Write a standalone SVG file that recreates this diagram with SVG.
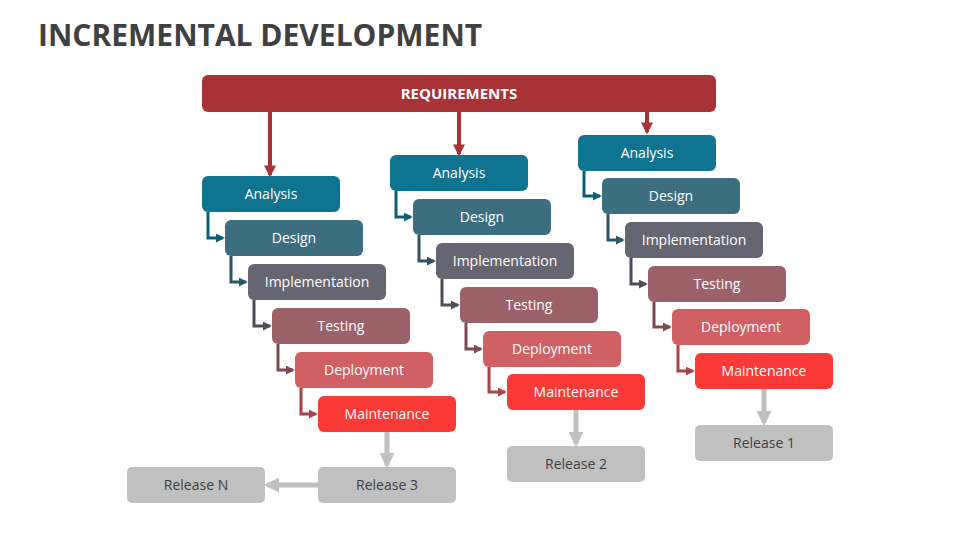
<svg xmlns="http://www.w3.org/2000/svg" width="960" height="540" viewBox="0 0 960 540">
<style>
text{font-family:"Open Sans","Liberation Sans",sans-serif;text-anchor:middle}
.t{font-size:14px;fill:#fff}
.r{font-size:14px;fill:#404040}
.c{fill:none;stroke-width:3}
</style>
<defs>
<marker id="ah" viewBox="0 0 10 10" refX="8" refY="5" markerWidth="3" markerHeight="3" orient="auto"><path d="M0,0L10,5L0,10z" fill="context-stroke"/></marker>
<marker id="ag" viewBox="0 0 10 10" refX="8" refY="5" markerWidth="3" markerHeight="3" orient="auto"><path d="M0,0L10,5L0,10z" fill="#c0c0c0"/></marker>
<marker id="ar" viewBox="0 0 10 10" refX="8" refY="5" markerWidth="3" markerHeight="3" orient="auto"><path d="M0,0L10,5L0,10z" fill="#a83236"/></marker>
</defs>
<text x="38" y="46" style="text-anchor:start;font-family:'Open Sans','Liberation Sans',sans-serif;font-weight:bold;font-size:30px;fill:#404040">INCREMENTAL DEVELOPMENT</text>
<g id="connectors">
<g stroke="#a83236" stroke-width="4" marker-end="url(#ar)">
<line x1="270" y1="112" x2="270" y2="175"/><line x1="459" y1="112" x2="459" y2="154"/><line x1="647" y1="112" x2="647" y2="132"/>
</g>
<g class="c">
<path d="M208 212V238H223" stroke="#0b5f74" marker-end="url(#ah)"/>
<path d="M231 256V282H246" stroke="#2d5566" marker-end="url(#ah)"/>
<path d="M254 300V326H270" stroke="#4d4e58" marker-end="url(#ah)"/>
<path d="M278 344V370H293" stroke="#7e4a52" marker-end="url(#ah)"/>
<path d="M301 388V414H316" stroke="#a84347" marker-end="url(#ah)"/>
<path d="M396 191V217H411" stroke="#0b5f74" marker-end="url(#ah)"/>
<path d="M419 235V261H434" stroke="#2d5566" marker-end="url(#ah)"/>
<path d="M442 279V305H458" stroke="#4d4e58" marker-end="url(#ah)"/>
<path d="M466 323V349H481" stroke="#7e4a52" marker-end="url(#ah)"/>
<path d="M489 367V392H505" stroke="#a84347" marker-end="url(#ah)"/>
<path d="M584 171V196H600" stroke="#0b5f74" marker-end="url(#ah)"/>
<path d="M608 214V240H623" stroke="#2d5566" marker-end="url(#ah)"/>
<path d="M631 258V284H646" stroke="#4d4e58" marker-end="url(#ah)"/>
<path d="M654 302V327H670" stroke="#7e4a52" marker-end="url(#ah)"/>
<path d="M678 345V371H693" stroke="#a84347" marker-end="url(#ah)"/>
</g>
<g stroke="#c0c0c0" stroke-width="5" marker-end="url(#ag)">
<line x1="387" y1="432" x2="387" y2="465"/><line x1="576" y1="410" x2="576" y2="444"/><line x1="764" y1="389" x2="764" y2="423"/><line x1="318" y1="485" x2="267" y2="485"/>
</g>
</g>
<g id="requirements"><rect x="202" y="75" width="514" height="37" rx="6" fill="#a83236"/><text x="459" y="99" style="font-size:15px;font-weight:bold;fill:#fff">REQUIREMENTS</text></g>
<g id="c1">
<g id="c1-analysis"><rect x="202" y="176" width="138" height="36" rx="6" fill="#0e7490"/><text class="t" x="271" y="199">Analysis</text></g>
<g id="c1-design"><rect x="225" y="220" width="138" height="36" rx="6" fill="#3c6e80"/><text class="t" x="294" y="243">Design</text></g>
<g id="c1-impl"><rect x="248" y="264" width="138" height="36" rx="6" fill="#656672"/><text class="t" x="317" y="287">Implementation</text></g>
<g id="c1-testing"><rect x="272" y="308" width="138" height="36" rx="6" fill="#9b626a"/><text class="t" x="341" y="331">Testing</text></g>
<g id="c1-deploy"><rect x="295" y="352" width="138" height="36" rx="6" fill="#d06064"/><text class="t" x="364" y="375">Deployment</text></g>
<g id="c1-maint"><rect x="318" y="396" width="138" height="36" rx="6" fill="#fa3a36"/><text class="t" x="387" y="419">Maintenance</text></g>
</g>
<g id="c2">
<g id="c2-analysis"><rect x="390" y="155" width="138" height="36" rx="6" fill="#0e7490"/><text class="t" x="459" y="178">Analysis</text></g>
<g id="c2-design"><rect x="413" y="199" width="138" height="36" rx="6" fill="#3c6e80"/><text class="t" x="482" y="222">Design</text></g>
<g id="c2-impl"><rect x="436" y="243" width="138" height="36" rx="6" fill="#656672"/><text class="t" x="505" y="266">Implementation</text></g>
<g id="c2-testing"><rect x="460" y="287" width="138" height="36" rx="6" fill="#9b626a"/><text class="t" x="529" y="310">Testing</text></g>
<g id="c2-deploy"><rect x="483" y="331" width="138" height="36" rx="6" fill="#d06064"/><text class="t" x="552" y="354">Deployment</text></g>
<g id="c2-maint"><rect x="507" y="374" width="138" height="36" rx="6" fill="#fa3a36"/><text class="t" x="576" y="397">Maintenance</text></g>
</g>
<g id="c3">
<g id="c3-analysis"><rect x="578" y="135" width="138" height="36" rx="6" fill="#0e7490"/><text class="t" x="647" y="158">Analysis</text></g>
<g id="c3-design"><rect x="602" y="178" width="138" height="36" rx="6" fill="#3c6e80"/><text class="t" x="671" y="201">Design</text></g>
<g id="c3-impl"><rect x="625" y="222" width="138" height="36" rx="6" fill="#656672"/><text class="t" x="694" y="245">Implementation</text></g>
<g id="c3-testing"><rect x="648" y="266" width="138" height="36" rx="6" fill="#9b626a"/><text class="t" x="717" y="289">Testing</text></g>
<g id="c3-deploy"><rect x="672" y="309" width="138" height="36" rx="6" fill="#d06064"/><text class="t" x="741" y="332">Deployment</text></g>
<g id="c3-maint"><rect x="695" y="353" width="138" height="36" rx="6" fill="#fa3a36"/><text class="t" x="764" y="376">Maintenance</text></g>
</g>
<g id="release1"><rect x="695" y="425" width="138" height="36" rx="5" fill="#c0c0c0"/><text class="r" x="764" y="448">Release 1</text></g>
<g id="release2"><rect x="507" y="446" width="138" height="36" rx="5" fill="#c0c0c0"/><text class="r" x="576" y="469">Release 2</text></g>
<g id="release3"><rect x="318" y="467" width="138" height="36" rx="5" fill="#c0c0c0"/><text class="r" x="387" y="490">Release 3</text></g>
<g id="releaseN"><rect x="127" y="467" width="138" height="36" rx="5" fill="#c0c0c0"/><text class="r" x="196" y="490">Release N</text></g>
</svg>
